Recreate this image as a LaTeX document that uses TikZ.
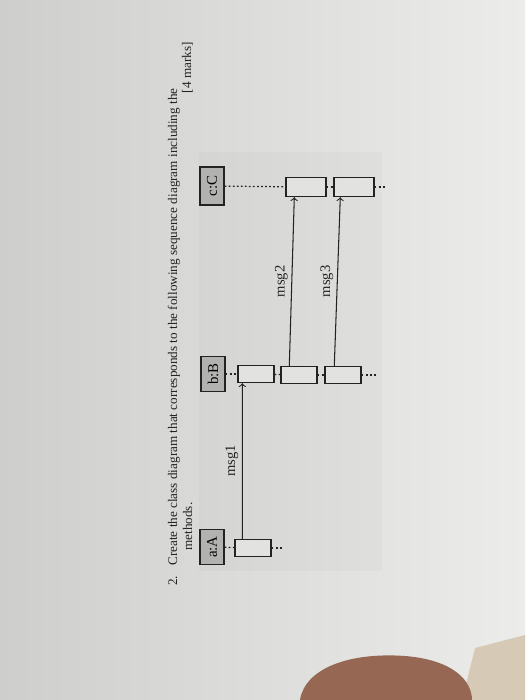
\documentclass[tikz,border=0pt]{standalone}
\usepackage{fontspec}
\setmainfont{Liberation Serif}
\usetikzlibrary{positioning}
\usetikzlibrary{arrows}
\definecolor{paperL}{RGB}{206,206,204}
\definecolor{paperR}{RGB}{236,236,234}
\definecolor{objgray}{RGB}{178,178,176}
\definecolor{actfill}{RGB}{226,226,224}
\definecolor{ink}{RGB}{35,35,35}
\definecolor{thumbcol}{RGB}{150,104,84}
\definecolor{tilecol}{RGB}{214,202,182}

\begin{document}
\begin{tikzpicture}[x=0.02cm,y=-0.02cm,
  objbox/.style={draw=ink,fill=objgray,line width=0.8pt,rotate=90,inner sep=1pt,
    minimum width=0.7cm,minimum height=0.48cm,font=\fontsize{8.5}{9}\selectfont},
  actbox/.style={draw=ink,fill=actfill,line width=0.8pt,inner sep=0pt,
    minimum width=0.72cm,minimum height=0.34cm},
  life/.style={ink,dash pattern=on 1pt off 1.3pt,line width=0.7pt},
  msg/.style={->,ink,line width=0.6pt},
  msglabel/.style={rotate=90,anchor=south,inner sep=2pt,text=ink,font=\fontsize{8.3}{9}\selectfont},
  qtext/.style={rotate=90,inner sep=0pt,text=ink,font=\fontsize{7.5}{8}\selectfont}]
 \useasboundingbox (0,0) rectangle (525,700);
 \shade[left color=paperL,right color=paperR] (0,0) rectangle (525,700);
 \fill[black,opacity=0.02] (199,152) rectangle (382,571);
 \fill[tilecol] (475,648) -- (525,635) -- (525,700) -- (462,700) -- cycle;
 \fill[thumbcol] (300,700) .. controls (305,668) and (350,652) .. (405,656)
   .. controls (455,660) and (472,682) .. (472,700) -- cycle;

 \node[qtext,anchor=base west] (num) at (177,586) {2.};
 \node[qtext,anchor=base west] (line1) at (177,566) {Create the class diagram that corresponds to the following sequence diagram including the};
 \node[qtext,anchor=base west] (line2) at (192,551) {methods.};
 \node[qtext,anchor=base east] (marks) at (191,42) {[4 marks]};

 \node[objbox] (aA) at (212,547) {a:A};
 \node[objbox] (bB) at (213,374) {b:B};
 \node[objbox,minimum width=0.76cm] (cC) at (212,186) {c:C};

 \node[actbox] (a1) at (253,548) {};
 \node[actbox] (b1) at (256,374) {};
 \node[actbox] (b2) at (299,375) {};
 \node[actbox] (b3) at (343,375) {};
 \node[actbox,minimum width=0.8cm,minimum height=0.38cm] (c1) at (306,187) {};
 \node[actbox,minimum width=0.8cm,minimum height=0.38cm] (c2) at (354,187) {};

 \coordinate (aEnd) at (282,548);
 \coordinate (bEnd) at (376,375);
 \coordinate (cEnd) at (386,187);

 \foreach \p/\q in {aA/a1,a1/aEnd,bB/b1,b1/b2,b2/b3,b3/bEnd,cC/c1,c1/c2,c2/cEnd}
  \draw[life] (\p) -- (\q);

 \draw[msg] ([xshift=0.16cm]a1.north west) -- node[msglabel] {msg1} ([xshift=0.1cm]b1.south west);
 \draw[msg] ([xshift=0.18cm]b2.north west) -- node[msglabel] {msg2} ([xshift=0.18cm]c1.south west);
 \draw[msg] ([xshift=0.2cm]b3.north west) -- node[msglabel] {msg3} ([xshift=0.14cm]c2.south west);
\end{tikzpicture}
\end{document}
